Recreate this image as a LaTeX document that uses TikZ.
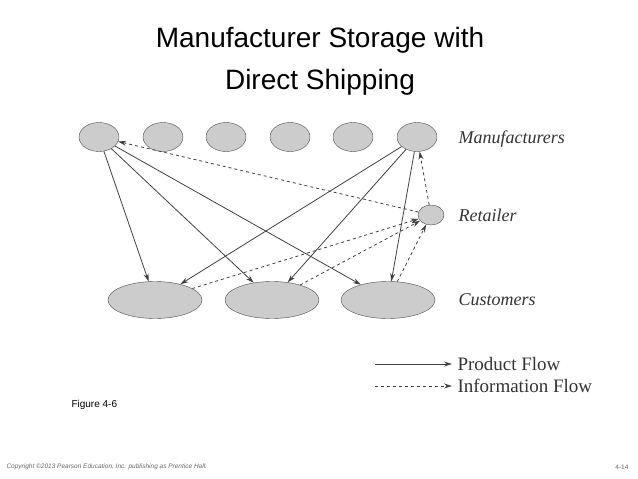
\documentclass[tikz,border=0pt]{standalone}
\usepackage{fontspec}
\setmainfont{Liberation Serif}
\newfontfamily\sansf{Liberation Sans}
\usetikzlibrary{shapes.geometric,arrows.meta}
\begin{document}
\begin{tikzpicture}[x=1pt,y=-1pt,
  blob/.style={ellipse, draw=black!70, fill=black!20, inner sep=0pt},
  prod/.style={-{Stealth[length=8pt,width=5pt]}, black!75, line width=0.8pt},
  info/.style={prod, dashed},
  lab/.style={anchor=west, font=\itshape\fontsize{18}{20}\selectfont, text=black!80}]
\useasboundingbox (0,0) rectangle (638,479);
\node[font=\sansf\fontsize{28}{42}\selectfont, align=center] (title) at (320,61) {Manufacturer Storage with\\Direct Shipping};

\foreach \i/\x in {1/99,2/163,3/226,4/290,5/353,6/417}
  \node[blob, minimum width=40, minimum height=29] (m\i) at (\x,137) {};
\node[blob, minimum width=26, minimum height=20] (ret) at (431,215) {};
\foreach \i/\x in {1/155,2/272,3/388}
  \node[blob, minimum width=94, minimum height=37] (c\i) at (\x,300) {};

\node[lab] (lm) at (455,139) {Manufacturers};
\node[lab] (lr) at (455,215) {Retailer};
\node[lab] (lc) at (455,300) {Customers};

% product flow
\draw[prod] (m1) -- (c1);
\draw[prod] (m1) -- (c2);
\draw[prod] (m1) -- (c3);
\draw[prod] (m6) -- (c1);
\draw[prod] (m6) -- (c2);
\draw[prod] (m6) -- (c3);

% information flow
\draw[info] (ret) -- (m1);
\draw[info] (ret) -- (m6);
\draw[info] (c1) -- (ret);
\draw[info] (c2) -- (ret);
\draw[info] (c3) -- (ret);

% legend
\coordinate (pa) at (375,364);
\coordinate (pb) at (452,364);
\coordinate (ia) at (375,386);
\coordinate (ib) at (452,386);
\draw[prod] (pa) -- (pb);
\draw[info] (ia) -- (ib);
\node[anchor=west, font=\fontsize{19}{21}\selectfont, text=black!80] (lp) at (454,364) {Product Flow};
\node[anchor=west, font=\fontsize{19}{21}\selectfont, text=black!80] (li) at (454,386) {Information Flow};

\node[anchor=west, font=\sansf\fontsize{10}{12}\selectfont] (fig) at (68,405) {Figure 4-6};
\node[anchor=west, font=\sansf\itshape\fontsize{6.5}{8}\selectfont, text=black!60] (copy) at (3,467) {Copyright \textcopyright2013 Pearson Education, Inc. publishing as Prentice Hall.};
\node[anchor=east, font=\sansf\fontsize{6.5}{8}\selectfont, text=black!60] (pg) at (632,467) {4-14};
\end{tikzpicture}
\end{document}
